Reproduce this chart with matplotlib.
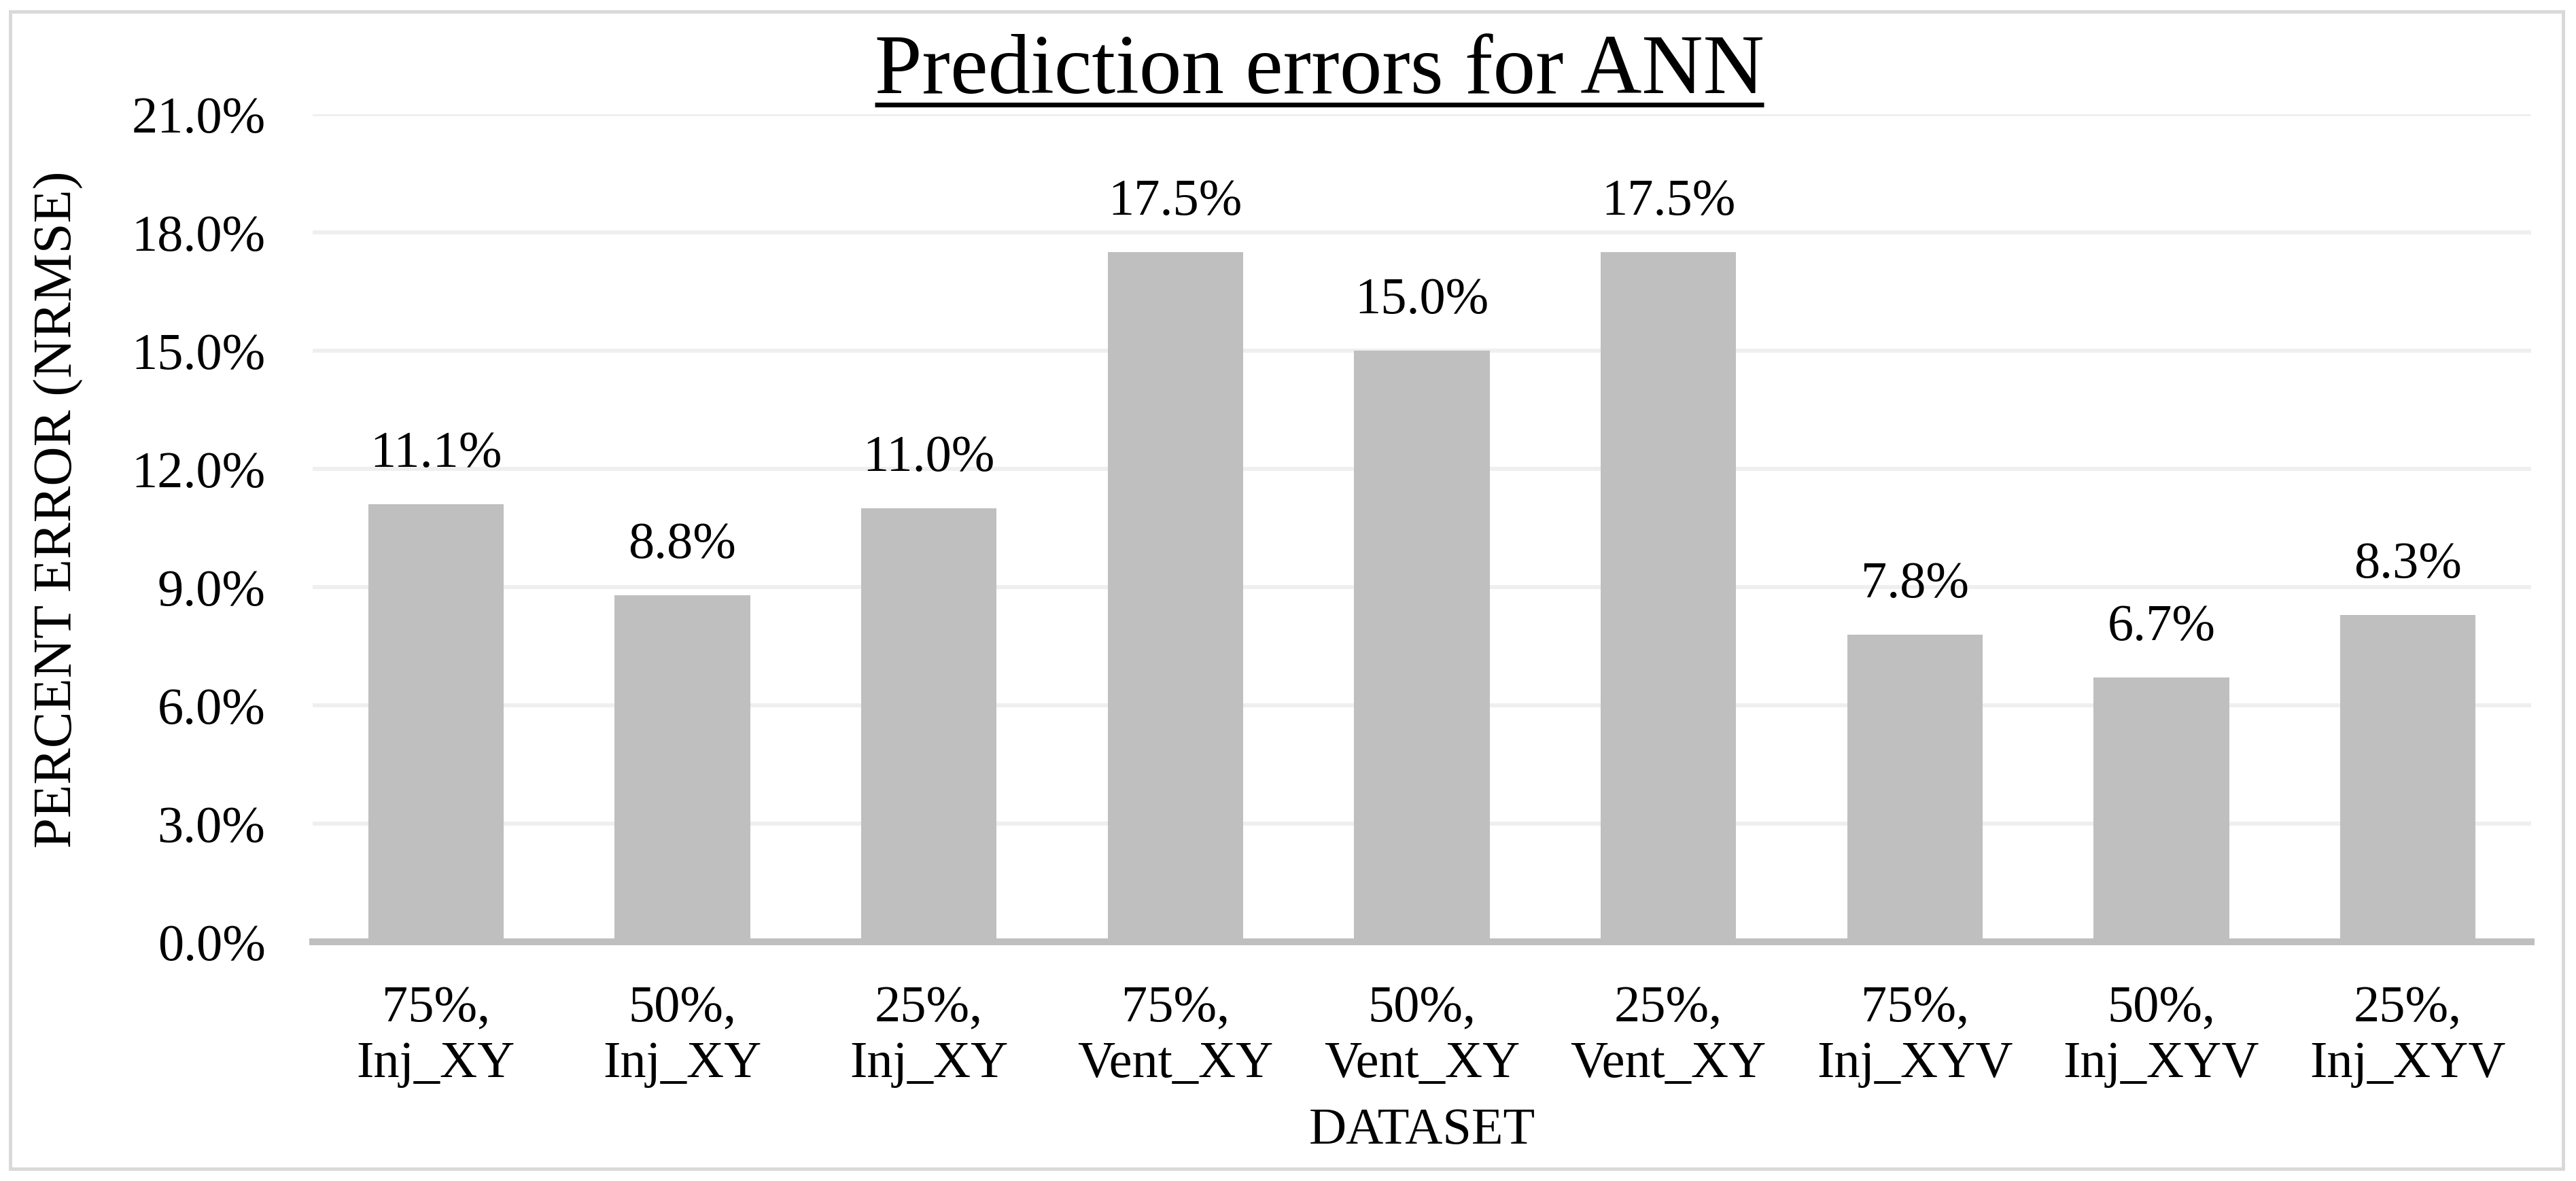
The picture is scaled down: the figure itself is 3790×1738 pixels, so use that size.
import matplotlib
matplotlib.use("Agg")
import matplotlib.pyplot as plt
from matplotlib.ticker import FuncFormatter
from matplotlib.patches import Rectangle
from matplotlib.lines import Line2D

# Data
categories = ["75%,\nInj_XY", "50%,\nInj_XY", "25%,\nInj_XY",
              "75%,\nVent_XY", "50%,\nVent_XY", "25%,\nVent_XY",
              "75%,\nInj_XYV", "50%,\nInj_XYV", "25%,\nInj_XYV"]
errors = [11.1, 8.8, 11.0, 17.5, 15.0, 17.5, 7.8, 6.7, 8.3]
yticks = [0, 3, 6, 9, 12, 15, 18, 21]

title = "Prediction errors for ANN"
ylabel = "PERCENT ERROR (NRMSE)"
xlabel = "DATASET"

# Config (pixel layout)
W, H = 3790, 1738
dpi = 100
bar_color = "#bfbfbf"
grid_color = "#efefef"

plt.rcParams["font.family"] = ["Liberation Serif", "DejaVu Serif"]


def pct(v, pos):
    return f"{v:.1f}%"


def main():
    fig = plt.figure(figsize=(W / dpi, H / dpi), dpi=dpi)

    # chart border
    fig.patches.append(Rectangle((15 / W, 1 - 1720 / H), (3771 - 15) / W, (1720 - 17) / H,
                                 transform=fig.transFigure, fill=False,
                                 edgecolor="#d9d9d9", linewidth=3.6))

    ax = fig.add_axes([460 / W, 1 - 1386 / H, (3724 - 460) / W, (1386 - 168) / H])
    x = list(range(len(errors)))
    ax.bar(x, errors, width=0.55, color=bar_color, zorder=2)
    ax.set_xlim(-0.5, len(errors) - 0.5)
    ax.set_ylim(0, 21)
    ax.set_yticks(yticks)
    ax.yaxis.set_major_formatter(FuncFormatter(pct))
    ax.set_xticks(x)
    ax.set_xticklabels(categories, linespacing=1.25)
    ax.tick_params(length=0, labelsize=55)
    ax.tick_params(axis="y", pad=50)
    ax.tick_params(axis="x", pad=46)

    ax.set_axisbelow(True)
    ax.yaxis.grid(True, color=grid_color, linewidth=4.3)
    for side in ["top", "right", "left"]:
        ax.spines[side].set_visible(False)
    ax.spines["bottom"].set_color(bar_color)
    ax.spines["bottom"].set_linewidth(7.2)
    ax.spines["bottom"].set_zorder(3)

    # data labels
    for i, v in enumerate(errors):
        ax.annotate(f"{v:.1f}%", (i, v), xytext=(0, 39.6), textcoords="offset points",
                    ha="center", va="baseline", fontsize=55)

    # title with underline
    t = fig.text(1941 / W, 1 - 137 / H, title, ha="center", va="baseline", fontsize=90)
    fig.canvas.draw()
    bb = t.get_window_extent()
    uy = 1 - 153.5 / H
    fig.add_artist(Line2D([bb.x0 / W, bb.x1 / W], [uy, uy], transform=fig.transFigure,
                          color="black", linewidth=5, solid_capstyle="butt"))

    fig.text(86 / W, 1 - 750 / H, ylabel, rotation=90, ha="center", va="center", fontsize=58)
    fig.text(2092 / W, 1 - 1683 / H, xlabel, ha="center", va="baseline", fontsize=55)

    fig.savefig("out.png", dpi=dpi)


if __name__ == "__main__":
    main()
